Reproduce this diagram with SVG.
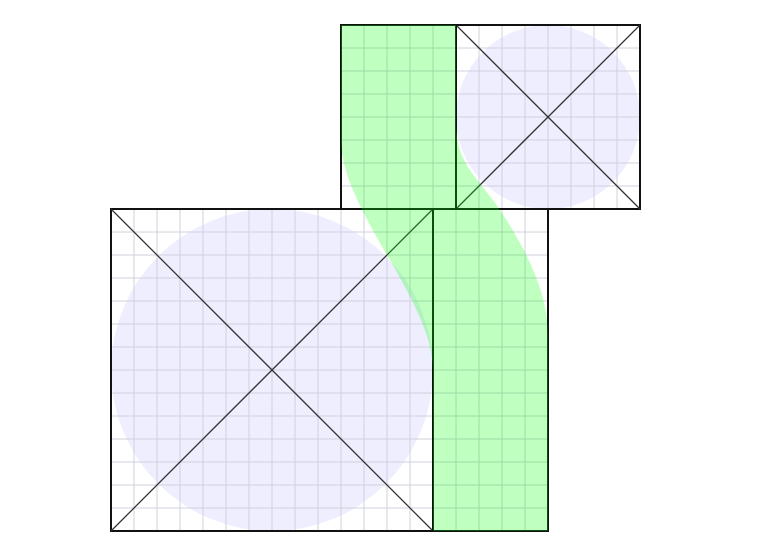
<svg xmlns="http://www.w3.org/2000/svg" width="768" height="554" viewBox="0 0 768 554">
<style>
.disc{fill:#eeeeff;stroke:none}
.grid{fill:none;stroke:#d0d0de;stroke-width:1}
.box{fill:none;stroke:#111;stroke-width:2}
.diag{fill:none;stroke:#333;stroke-width:1.3}
.band{fill:#00ff00;fill-opacity:0.25;stroke:none}
</style>
<rect x="0" y="0" width="768" height="554" fill="#ffffff"/>
<g id="big-square">
<circle class="disc" cx="272" cy="370" r="161"/>
<path class="grid" d="M134,209V531M157,209V531M180,209V531M203,209V531M226,209V531M249,209V531M272,209V531M295,209V531M318,209V531M341,209V531M364,209V531M387,209V531M410,209V531M111,232H433M111,255H433M111,278H433M111,301H433M111,324H433M111,347H433M111,370H433M111,393H433M111,416H433M111,439H433M111,462H433M111,485H433M111,508H433"/>
<rect class="box" x="111" y="209" width="322" height="322"/>
<path class="diag" d="M111,209L433,531M433,209L111,531"/>
</g>
<g id="small-square">
<circle class="disc" cx="548" cy="117" r="92"/>
<path class="grid" d="M479,25V209M502,25V209M525,25V209M548,25V209M571,25V209M594,25V209M617,25V209M456,48H640M456,71H640M456,94H640M456,117H640M456,140H640M456,163H640M456,186H640"/>
<rect class="box" x="456" y="25" width="184" height="184"/>
<path class="diag" d="M456,25L640,209M640,25L456,209"/>
</g>
<g id="rect-top">
<path class="grid" d="M364,25V209M387,25V209M410,25V209M433,25V209M341,48H456M341,71H456M341,94H456M341,117H456M341,140H456M341,163H456M341,186H456"/>
<rect class="box" x="341" y="25" width="115" height="184"/>
</g>
<g id="rect-bottom">
<path class="grid" d="M456,209V531M479,209V531M502,209V531M525,209V531M433,232H548M433,255H548M433,278H548M433,301H548M433,324H548M433,347H548M433,370H548M433,393H548M433,416H548M433,439H548M433,462H548M433,485H548M433,508H548"/>
<rect class="box" x="433" y="209" width="115" height="322"/>
</g>
<g id="band">
<path class="band" d="M341,25L456,25L456,125C456,165 482,182 500,210C524,247 548,290 548,335L548,531L433,531L433,370C433,300 341,210 341,140Z"/>
</g>
</svg>
